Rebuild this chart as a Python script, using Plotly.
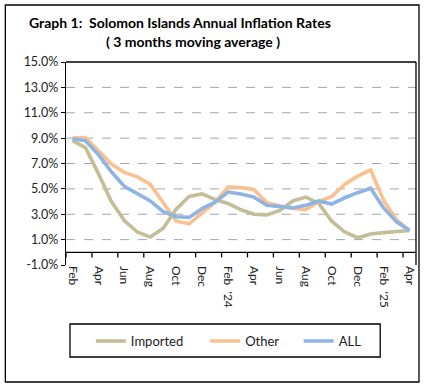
import plotly.graph_objects as go

# months Feb 2023 .. Apr 2025
months = ['Feb-23', 'Mar-23', 'Apr-23', 'May-23', 'Jun-23', 'Jul-23', 'Aug-23', 'Sep-23', 'Oct-23',
          'Nov-23', 'Dec-23', 'Jan-24', 'Feb-24', 'Mar-24', 'Apr-24', 'May-24', 'Jun-24', 'Jul-24',
          'Aug-24', 'Sep-24', 'Oct-24', 'Nov-24', 'Dec-24', 'Jan-25', 'Feb-25', 'Mar-25', 'Apr-25']
tick_labels = ['Feb', 'Apr', 'Jun', 'Aug', 'Oct', 'Dec', "Feb  '24", 'Apr', 'Jun', 'Aug', 'Oct', 'Dec',
               "Feb  '25", 'Apr']

imported = [8.8, 8.25, 6.2, 4.0, 2.5, 1.6, 1.2, 1.9, 3.4, 4.4, 4.6, 4.15, 3.85, 3.35, 3.0, 2.95,
            3.3, 4.05, 4.35, 3.85, 2.45, 1.6, 1.15, 1.45, 1.55, 1.65, 1.72]
other = [9.0, 9.05, 8.0, 6.95, 6.3, 5.95, 5.35, 3.9, 2.45, 2.25, 3.1, 3.95, 5.15, 5.1, 4.95, 3.9,
         3.65, 3.45, 3.37, 4.0, 4.4, 5.35, 6.0, 6.5, 4.1, 2.55, 1.72]
all_items = [8.95, 8.8, 7.7, 6.35, 5.2, 4.65, 4.05, 3.2, 2.8, 2.75, 3.45, 3.95, 4.75, 4.6, 4.35,
             3.7, 3.6, 3.5, 3.7, 4.05, 3.8, 4.3, 4.7, 5.05, 3.5, 2.4, 1.72]

names = ['Imported', 'Other', 'ALL']
colors = ['#C4BD97', '#FAC090', '#8DB4E2']
series = [imported, other, all_items]

W, H = 427, 392
L, R, T, B = 66, 418, 62, 265   # plot area in pixels


def px(x):
    return (x - L) / (R - L)


def py(y):
    return (B - y) / (B - T)


FONT = 'Lato'

fig = go.Figure()
for i, (name, vals, col) in enumerate(zip(names, series, colors)):
    fig.add_trace(go.Scatter(
        x=months, y=vals, name=name, mode='lines',
        line=dict(color=col, width=3.6),
        legend='legend' if i == 0 else f'legend{i+1}',
    ))

shapes = []
# dashed grid
for g in range(1, 15, 2):
    shapes.append(dict(type='line', xref='paper', yref='y', x0=0, x1=1, y0=g, y1=g,
                       line=dict(color='#A6A6A6', width=1, dash='dash'), layer='below'))
# frame: top + right
shapes.append(dict(type='line', xref='paper', yref='paper', x0=0, x1=1, y0=1, y1=1,
                   line=dict(color='black', width=1.3)))
shapes.append(dict(type='line', xref='paper', yref='paper', x0=1, x1=1, y0=0, y1=1,
                   line=dict(color='black', width=1.3)))
# x axis crossing at 0
shapes.append(dict(type='line', xref='paper', yref='y', x0=0, x1=1, y0=0, y1=0,
                   line=dict(color='black', width=1.3)))
for k in range(14):
    xt = -0.5 + 2 * k
    shapes.append(dict(type='line', xref='x', yref='y', x0=xt, x1=xt, y0=0, y1=-0.4,
                       line=dict(color='black', width=1.3)))
# outer border
shapes.append(dict(type='rect', xref='paper', yref='paper', x0=px(5), x1=px(421), y0=py(382), y1=py(5),
                   line=dict(color='black', width=1.3)))
# legend box
shapes.append(dict(type='rect', xref='paper', yref='paper', x0=px(70), x1=px(382), y0=py(357), y1=py(324),
                   line=dict(color='black', width=1.3)))

annotations = [
    dict(text='<b>Graph 1:  Solomon Islands Annual Inflation Rates</b>', xref='paper', yref='paper',
         x=px(27), y=py(23), xanchor='left', yanchor='middle', showarrow=False,
         font=dict(family=FONT, size=14, color='black')),
    dict(text='<b>( 3 months moving average )</b>', xref='paper', yref='paper',
         x=px(194), y=py(42), xanchor='center', yanchor='middle', showarrow=False,
         font=dict(family=FONT, size=14, color='black')),
]

leg_font = dict(family=FONT, size=13, color='#222222')
leg_x = [97, 212, 306]
legends = {}
for i, lx in enumerate(leg_x):
    key = 'legend' if i == 0 else f'legend{i+1}'
    legends[key] = dict(x=px(lx - 6), y=py(341), xanchor='left', yanchor='middle',
                        orientation='h', font=leg_font, bgcolor='rgba(0,0,0,0)',
                        borderwidth=0, itemwidth=30)

yvals = list(range(-1, 16, 2))
fig.update_layout(
    width=W, height=H,
    margin=dict(l=L, r=W - R, t=T, b=H - B),
    paper_bgcolor='white', plot_bgcolor='white',
    showlegend=True,
    shapes=shapes,
    annotations=annotations,
    xaxis=dict(type='category', range=[-0.5, 26.5], tickvals=months[::2], ticktext=tick_labels,
               tickangle=90, showgrid=False, showline=False, zeroline=False, ticks='',
               tickfont=dict(family=FONT, size=12, color='#222222')),
    yaxis=dict(range=[-1, 15], tickvals=yvals, ticktext=[f'{v:.1f}%' for v in yvals],
               showgrid=False, zeroline=False, showline=True, linecolor='black', linewidth=1.3,
               ticks='outside', ticklen=4, tickcolor='black',
               tickfont=dict(family=FONT, size=12.5, color='#222222')),
    **legends,
)

# page body has an 8px default margin; remove it so the figure sits at 0,0
fig.write_html("out.html", config={'displayModeBar': False},
               post_script="document.body.style.margin='0px';")
